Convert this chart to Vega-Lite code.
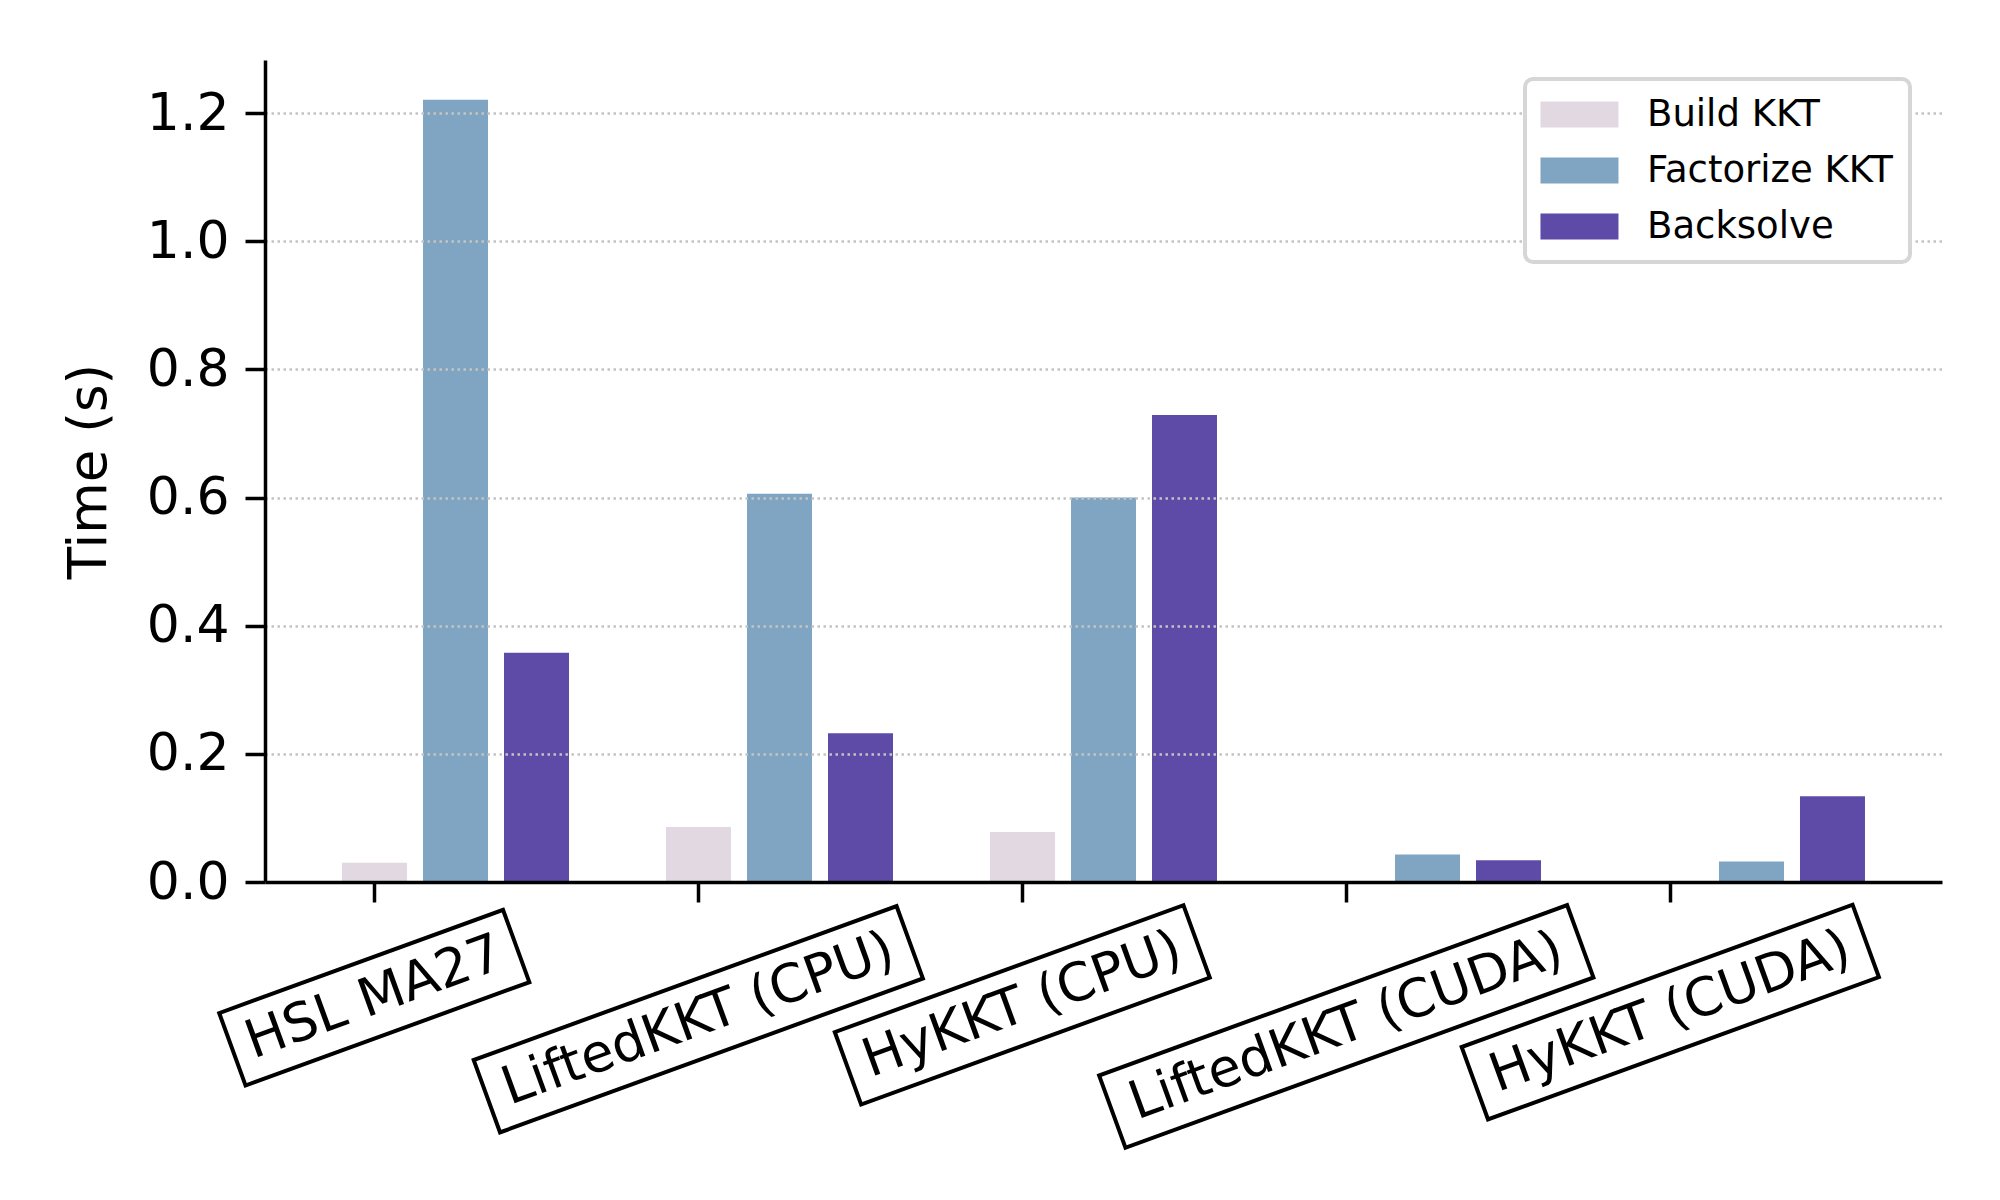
{
  "$schema": "https://vega.github.io/schema/vega-lite/v6.json",
  "width": 1677,
  "height": 822,
  "autosize": {"type": "none"},
  "padding": {"left": 265, "top": 60, "right": 58, "bottom": 318},
  "background": "white",
  "config": {
    "font": "DejaVu Sans",
    "view": {"stroke": null},
    "axis": {
      "domainColor": "black",
      "domainWidth": 3.5,
      "tickColor": "black",
      "tickWidth": 3.5,
      "tickSize": 20,
      "labelColor": "black",
      "titleColor": "black",
      "labelFont": "DejaVu Sans",
      "titleFont": "DejaVu Sans"
    }
  },
  "data": {
    "values": [
      {"method": "HSL MA27", "phase": "Build KKT", "time": 0.030},
      {"method": "HSL MA27", "phase": "Factorize KKT", "time": 1.221},
      {"method": "HSL MA27", "phase": "Backsolve", "time": 0.358},
      {"method": "LiftedKKT (CPU)", "phase": "Build KKT", "time": 0.086},
      {"method": "LiftedKKT (CPU)", "phase": "Factorize KKT", "time": 0.606},
      {"method": "LiftedKKT (CPU)", "phase": "Backsolve", "time": 0.232},
      {"method": "HyKKT (CPU)", "phase": "Build KKT", "time": 0.078},
      {"method": "HyKKT (CPU)", "phase": "Factorize KKT", "time": 0.600},
      {"method": "HyKKT (CPU)", "phase": "Backsolve", "time": 0.729},
      {"method": "LiftedKKT (CUDA)", "phase": "Build KKT", "time": 0},
      {"method": "LiftedKKT (CUDA)", "phase": "Factorize KKT", "time": 0.043},
      {"method": "LiftedKKT (CUDA)", "phase": "Backsolve", "time": 0.034},
      {"method": "HyKKT (CUDA)", "phase": "Build KKT", "time": 0},
      {"method": "HyKKT (CUDA)", "phase": "Factorize KKT", "time": 0.032},
      {"method": "HyKKT (CUDA)", "phase": "Backsolve", "time": 0.134}
    ]
  },
  "layer": [
    {
      "mark": {"type": "bar"},
      "encoding": {
        "x": {
          "field": "method",
          "type": "nominal",
          "sort": null,
          "scale": {"paddingInner": 0.25, "paddingOuter": 0.213},
          "axis": {
            "title": null,
            "labels": false,
            "bandPosition": 0.1658,
            "grid": false,
            "zindex": 2
          }
        },
        "xOffset": {
          "field": "phase",
          "type": "nominal",
          "sort": ["Build KKT", "Factorize KKT", "Backsolve"],
          "scale": {"paddingInner": 0.1975, "paddingOuter": 0.0988}
        },
        "y": {
          "field": "time",
          "type": "quantitative",
          "scale": {"domain": [0, 1.283], "nice": false, "zero": true},
          "axis": {
            "title": "Time (s)",
            "titleFontSize": 53,
            "titleFontWeight": "normal",
            "titlePadding": 30,
            "values": [0, 0.2, 0.4, 0.6, 0.8, 1.0, 1.2],
            "format": ".1f",
            "labelFontSize": 52,
            "labelPadding": 16,
            "grid": true,
            "gridColor": "#c4c4c4",
            "gridDash": [2.5, 3.5],
            "gridWidth": 2.5,
            "zindex": 1
          }
        },
        "color": {
          "field": "phase",
          "type": "nominal",
          "scale": {
            "domain": ["Build KKT", "Factorize KKT", "Backsolve"],
            "range": ["#e1d8e2", "#7fa5c3", "#5e4ba7"]
          },
          "legend": {
            "title": null,
            "orient": "none",
            "legendX": 1260,
            "legendY": 19,
            "zindex": 3,
            "padding": 17,
            "fillColor": "white",
            "strokeColor": "#d6d6d6",
            "cornerRadius": 8,
            "labelFontSize": 37,
            "labelFont": "DejaVu Sans",
            "labelColor": "black",
            "labelLimit": 500,
            "labelOffset": 68,
            "rowPadding": 18,
            "symbolType": "M-1.54,-1 H4.46 V1 H-1.54 Z",
            "symbolSize": 676,
            "symbolStrokeWidth": 0,
            "symbolOpacity": 1,
            "encode": {"legend": {"update": {"strokeWidth": {"value": 4}}}}
          }
        }
      }
    },
    {
      "transform": [{"filter": "datum.phase === 'Build KKT'"}],
      "mark": {
        "type": "point",
        "filled": false,
        "stroke": "black",
        "strokeWidth": 4,
        "opacity": 1,
        "size": 10000,
        "angle": -20
      },
      "encoding": {
        "x": {"field": "method", "type": "nominal", "sort": null, "bandPosition": 0.1658},
        "y": {"datum": -0.203},
        "yOffset": {
          "field": "method",
          "type": "nominal",
          "scale": {
            "type": "point",
            "domain": ["HSL MA27", "HyKKT (CPU)", "HyKKT (CUDA)", "LiftedKKT (CPU)", "LiftedKKT (CUDA)"],
            "range": [-18, 18]
          }
        },
        "shape": {
          "field": "method",
          "type": "nominal",
          "scale": {
            "domain": ["HSL MA27", "LiftedKKT (CPU)", "HyKKT (CPU)", "LiftedKKT (CUDA)", "HyKKT (CUDA)"],
            "range": [
              "M-3.02,-0.77 H3.02 V0.77 H-3.02 Z",
              "M-4.5,-0.77 H4.5 V0.77 H-4.5 Z",
              "M-3.71,-0.77 H3.71 V0.77 H-3.71 Z",
              "M-4.98,-0.77 H4.98 V0.77 H-4.98 Z",
              "M-4.16,-0.77 H4.16 V0.77 H-4.16 Z"
            ]
          },
          "legend": null
        }
      }
    },
    {
      "transform": [{"filter": "datum.phase === 'Build KKT'"}],
      "mark": {
        "type": "text",
        "font": "DejaVu Sans",
        "fontSize": 53,
        "angle": -20,
        "align": "center",
        "baseline": "middle",
        "color": "black"
      },
      "encoding": {
        "x": {"field": "method", "type": "nominal", "sort": null, "bandPosition": 0.1658},
        "y": {"datum": -0.203},
        "yOffset": {
          "field": "method",
          "type": "nominal",
          "scale": {
            "type": "point",
            "domain": ["HSL MA27", "HyKKT (CPU)", "HyKKT (CUDA)", "LiftedKKT (CPU)", "LiftedKKT (CUDA)"],
            "range": [-18, 18]
          }
        },
        "text": {"field": "method"}
      }
    }
  ]
}
